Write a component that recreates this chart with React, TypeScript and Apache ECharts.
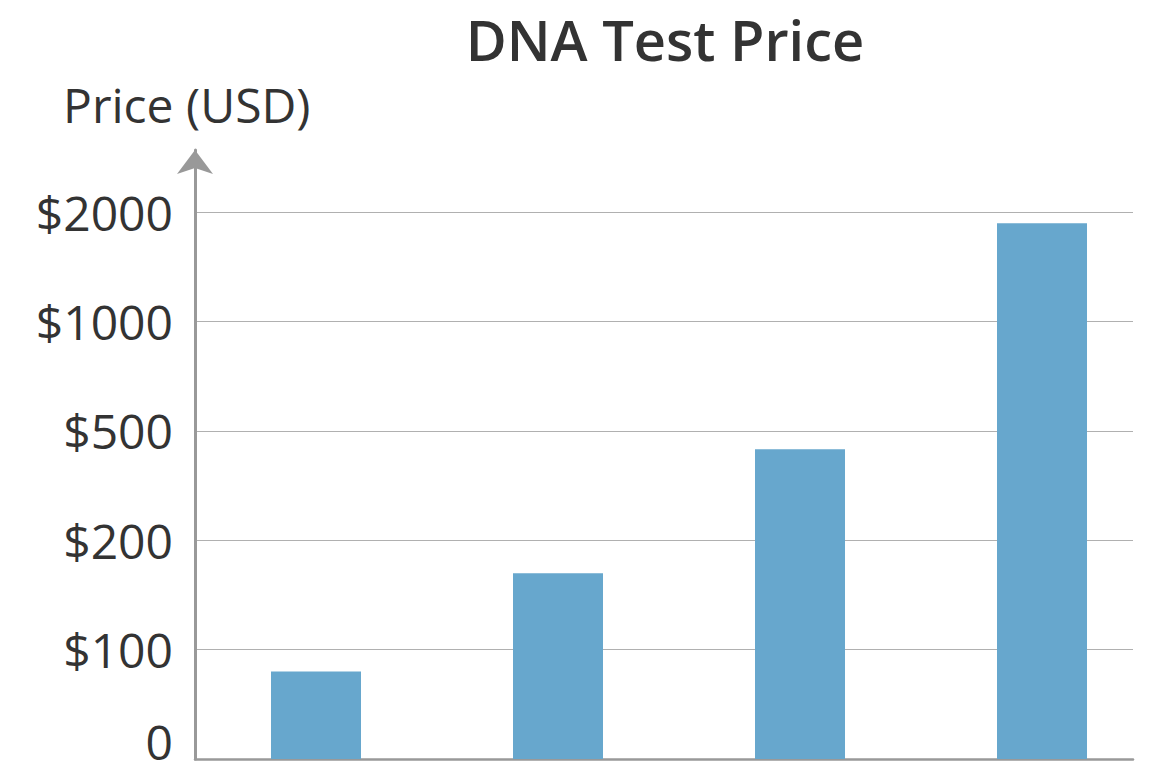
import { useEffect, useRef } from "react";
import * as echarts from "echarts";

// four DNA tests, labels not shown on the x axis in the original
const categories = ["Test A", "Test B", "Test C", "Test D"];
const prices = [80, 170, 450, 1900];

// the y axis is not linear: each tick takes the same height
const tickValues = [0, 100, 200, 500, 1000, 2000];
const tickLabels = ["0", "$100", "$200", "$500", "$1000", "$2000"];

// price -> position on the evenly spaced tick scale (linear between ticks)
function toSlot(v: number) {
  for (let i = 1; i < tickValues.length; i++) {
    if (v <= tickValues[i]) {
      const lo = tickValues[i - 1];
      const hi = tickValues[i];
      return i - 1 + (v - lo) / (hi - lo);
    }
  }
  return tickValues.length - 1;
}

const FONT = "'Open Sans', 'Noto Sans', sans-serif";

export default function App() {
  const ref = useRef<HTMLDivElement>(null);

  useEffect(() => {
    if (!ref.current) return;
    const chart = echarts.init(ref.current, null, { renderer: "svg" });

    chart.setOption({
      animation: false,
      backgroundColor: "#ffffff",
      title: {
        text: "DNA Test Price",
        left: 660,
        top: 6,
        textAlign: "center",
        textStyle: { fontFamily: FONT, fontSize: 56, fontWeight: 600, color: "#333333" },
      },
      grid: { left: 195, right: 43, top: 150, bottom: 21, containLabel: false },
      xAxis: {
        type: "value",
        min: -0.5,
        max: 3.376,
        axisLine: { show: true, lineStyle: { color: "#999999", width: 2.5 } },
        axisTick: { show: false },
        axisLabel: { show: false },
        splitLine: { show: false },
      },
      yAxis: {
        type: "value",
        min: 0,
        max: 5.57,
        interval: 1,
        name: "Price (USD)",
        nameLocation: "end",
        nameGap: 22,
        nameTextStyle: { fontFamily: FONT, fontSize: 48, color: "#333333", align: "left", padding: [0, 0, 0, -132] },
        axisLine: {
          show: true,
          onZero: false,
          symbol: ["none", "arrow"],
          symbolSize: [27, 24],
          symbolOffset: [0, 0],
          lineStyle: { color: "#999999", width: 3 },
        },
        axisTick: { show: false },
        axisLabel: {
          fontFamily: FONT,
          fontSize: 48,
          color: "#333333",
          margin: 22,
          formatter: (v: number) => {
            if (!Number.isInteger(v)) return "";
            return v === 0 ? "{z|0}" : tickLabels[v] ?? "";
          },
          rich: {
            z: { fontFamily: FONT, fontSize: 48, color: "#333333", padding: [0, 0, 36, 0] },
          },
        },
        splitLine: { show: true, showMaxLine: false, showMinLine: false, lineStyle: { color: "#b0b0b0", width: 1.2 } },
      },
      series: [
        {
          type: "bar",
          name: "Price",
          barWidth: 90,
          itemStyle: { color: "#67a7cd" },
          data: prices.map((p, i) => ({ name: categories[i], value: [i, toSlot(p)] })),
        },
      ],
    });

    return () => chart.dispose();
  }, []);

  return (
    <div
      ref={ref}
      style={{ position: "fixed", left: 0, top: 0, width: 1176, height: 780, background: "#fff" }}
    />
  );
}
